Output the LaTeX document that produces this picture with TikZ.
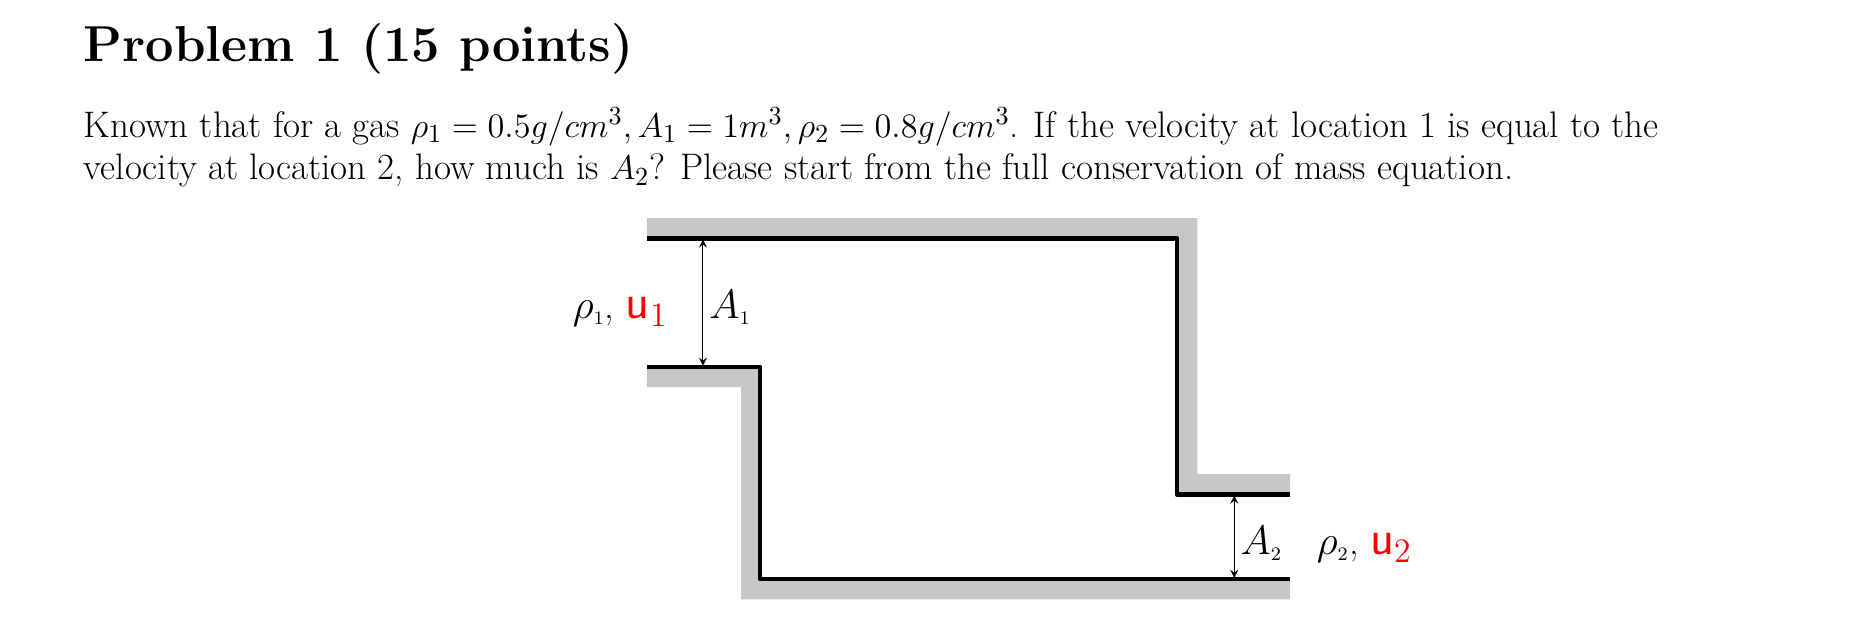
\documentclass[tikz,border=0pt]{standalone}
\usepackage{amsmath}
\begin{document}
\begin{tikzpicture}[x=0.5pt,y=-0.5pt,
  wall/.style={line width=2pt,line join=round},
  shade/.style={fill=black!22,draw=none},
  dim/.style={<->,>=stealth,line width=0.5pt},
  lab/.style={font=\fontsize{16}{18}\selectfont,inner sep=0pt}]
\useasboundingbox (0,0) rectangle (1568,526);
\node[anchor=base west,inner sep=0pt,font=\fontsize{21.2}{24}\selectfont\bfseries] (title) at (70,52) {Problem 1 (15 points)};
\node[anchor=base west,inner sep=0pt,font=\fontsize{15.5}{18}\selectfont] (l1) at (70,115) {Known that for a gas $\rho_1=0.5g/cm^3, A_1=1m^3, \rho_2=0.8g/cm^3$. If the velocity at location 1 is equal to the};
\node[anchor=base west,inner sep=0pt,font=\fontsize{15.5}{18}\selectfont] (l2) at (70,151) {velocity at location 2, how much is $A_2$? Please start from the full conservation of mass equation.};
% shading
\fill[shade] (543,183) -- (1005,183) -- (1005,398) -- (1083,398) -- (1083,415) -- (988,415) -- (988,200) -- (543,200) -- cycle;
\fill[shade] (543,308) -- (638,308) -- (638,486) -- (1083,486) -- (1083,503) -- (622,503) -- (622,325) -- (543,325) -- cycle;
% walls
\draw[wall] (543,200) -- (988,200) -- (988,415) -- (1083,415);
\draw[wall] (543,308) -- (638,308) -- (638,486) -- (1083,486);
\coordinate (a1t) at (590,201); \coordinate (a1b) at (590,307);
\coordinate (a2t) at (1036,416); \coordinate (a2b) at (1036,485);
\draw[dim] (a1t) -- (a1b);
\draw[dim] (a2t) -- (a2b);
\node[lab,anchor=west] (A1) at (595,258) {$A_{\scriptscriptstyle 1}$};
\node[lab,anchor=west] (A2) at (1041,456) {$A_{\scriptscriptstyle 2}$};
\node[lab,anchor=east] (r1) at (561,262) {$\rho_{\scriptscriptstyle 1}$, \textcolor{red}{\fontsize{22}{24}\selectfont$\mathsf{u}_{1}$}};
\node[lab,anchor=west] (r2) at (1105,460) {$\rho_{\scriptscriptstyle 2}$, \textcolor{red}{\fontsize{22}{24}\selectfont$\mathsf{u}_{2}$}};
\end{tikzpicture}
\end{document}
